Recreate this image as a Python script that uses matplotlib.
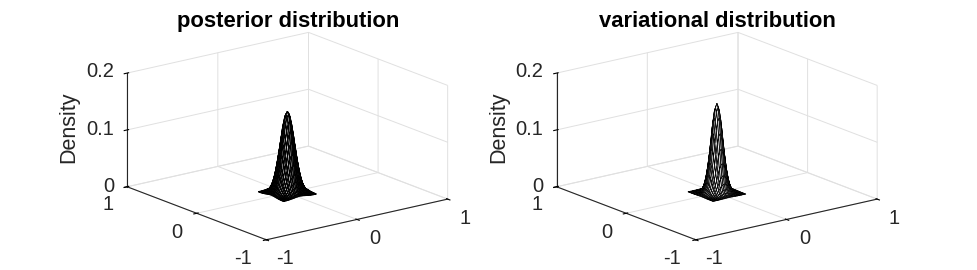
import numpy as np
import matplotlib
matplotlib.use('Agg')
from matplotlib import pyplot as plt

plt.rcParams['font.family'] = ['Liberation Sans', 'DejaVu Sans']
plt.rcParams['axes.unicode_minus'] = False

titles = ['posterior distribution', 'variational distribution']
xy_ticks = [-1, 0, 1]
xy_labels = ['-1', '0', '1']
z_ticks = [0, 0.1, 0.2]
z_labels = ['0', '0.1', '0.2']
grid_x = [-0.180, -0.165, -0.150, -0.135, -0.120, -0.105, -0.090, -0.075, -0.060, -0.045, -0.030, -0.015, 0.0,
          0.015, 0.030, 0.045, 0.060, 0.075, 0.090, 0.105, 0.120, 0.135, 0.150, 0.165, 0.180]
# relative height of the peak along one axis
shape_post = [0.02, 0.035, 0.065, 0.11, 0.17, 0.26, 0.37, 0.50, 0.64, 0.77, 0.89, 0.97, 1.0,
              0.97, 0.89, 0.77, 0.64, 0.50, 0.37, 0.26, 0.17, 0.11, 0.065, 0.035, 0.02]
shape_var = [0.003, 0.008, 0.016, 0.035, 0.07, 0.13, 0.22, 0.35, 0.51, 0.68, 0.85, 0.96, 1.0,
             0.96, 0.85, 0.68, 0.51, 0.35, 0.22, 0.13, 0.07, 0.035, 0.016, 0.008, 0.003]
peak_post = 0.143
peak_var = 0.157

W, H = 978, 270
S = 400
centers = [(282, 141.5), (711.5, 141.5)]
title_x = [288, 717.5]
shapes = [shape_post, shape_var]
peaks = [peak_post, peak_var]
mesh_widths = [0.9, 0.6]

# pixel spots of the tick labels in the left panel, the 3d axes can't place them this exactly
x_label_px = [(285, 258), (375, 238), (465, 219)]
y_label_px = [(243, 258), (177, 232), (108, 205)]
z_label_px = [(114, 186), (114, 130), (114, 72)]
panel_shift = 429.5

fig = plt.figure(figsize=(W / 100, H / 100), dpi=100, facecolor='white')
X, Y = np.meshgrid(grid_x, grid_x)


def put(px, py, s, **kw):
    fig.text(px / W, 1 - py / H, s, fontsize=14.5, color='#262626', **kw)


for i in range(2):
    cx, cy = centers[i]
    ax = fig.add_axes([(cx - S / 2) / W, 1 - (cy + S / 2) / H, S / W, S / H], projection='3d', facecolor='none')
    ax.set_proj_type('ortho')
    ax.view_init(elev=17, azim=-127.5)
    ax.set_box_aspect((1, 1, 0.52), zoom=0.836)
    Z = peaks[i] * np.outer(shapes[i], shapes[i])
    ax.plot_surface(X, Y, Z, rstride=1, cstride=1, color='white', edgecolor='black', linewidth=mesh_widths[i], shade=False)
    ax.set_xlim(-1, 1)
    ax.set_ylim(-1, 1)
    ax.set_zlim(0, 0.2)
    ax.set_xticks(xy_ticks)
    ax.set_yticks(xy_ticks)
    ax.set_zticks(z_ticks)
    ax.set_xticklabels([])
    ax.set_yticklabels([])
    ax.set_zticklabels([])
    ax.set_zlabel('Density', fontsize=15.5, color='#262626', rotation=90, labelpad=6.3)
    ax.zaxis.set_rotate_label(False)
    for axis in [ax.xaxis, ax.yaxis, ax.zaxis]:
        axis.set_pane_color((1, 1, 1, 0))
        axis.pane.set_edgecolor('#d9d9d9')
        axis.line.set_color('#262626')
        axis.line.set_linewidth(0.8)
        axis._axinfo['grid']['color'] = '#e0e0e0'
        axis._axinfo['grid']['linewidth'] = 0.7
    shift = i * panel_shift
    for (px, py), s in zip(x_label_px, xy_labels):
        put(px + shift, py, s, ha='center', va='center')
    for (px, py), s in zip(y_label_px, xy_labels):
        put(px + shift, py, s, ha='center', va='center')
    for (px, py), s in zip(z_label_px, z_labels):
        put(px + shift, py, s, ha='right', va='center')
    fig.text(title_x[i] / W, 1 - 27 / H, titles[i], fontsize=15.8, fontweight='bold', ha='center', va='baseline', color='black')

fig.savefig('out.png', dpi=100)
